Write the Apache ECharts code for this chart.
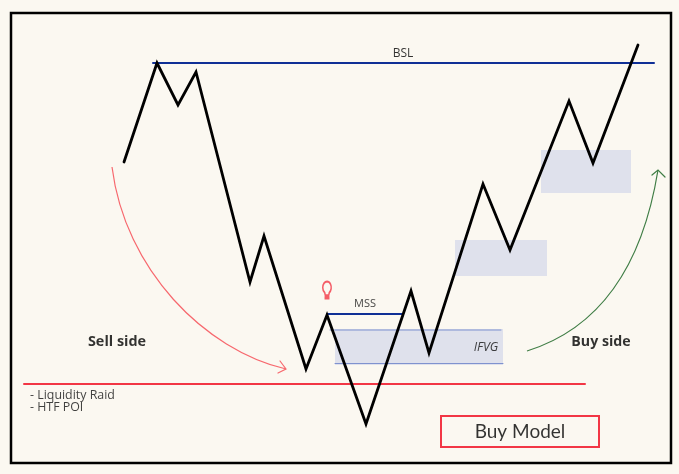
<!DOCTYPE html>
<html><head><meta charset="utf-8">
<style>html,body{margin:0;padding:0;background:#fbf8f1}#c{width:679px;height:474px}</style>
<script src="https://cdn.jsdelivr.net/npm/echarts@6/dist/echarts.min.js"></script>
</head><body><div id="c"></div>
<script>
const pricePath = [[124,162],[157,63],[178,105],[196,72],[250,282],[264,236],[306,369],[327,315],[366,424],[411,291],[429,353],[483,184],[510,250],[569,101],[593,163],[638,45]];
const bslLine = [[153,63],[654,63]];
const mssLine = [[327,314],[403,314]];
const raidLine = [[24,384],[585,384]];
const ifvgTop = [[330,330],[501,330]];
const ifvgBottom = [[335,363.5],[503,363.5]];
const zones = [[335,329,503,365],[455,240,547,276],[541,150,631,193]];
const modelBox = [441,416,599,447];
const frameBox = [11,13,671,463];
// start, control 1, control 2, end
const sellCurve = [112,167,125,270,205,350,286,369];
const sellHead = [[280,361],[286,369],[278,373]];
const buyCurve = [527,351,610,325,645,250,658,170];
const buyHead = [[652,175],[658,170],[665,177]];
const bulb = [[327,290]];
const labels = [
  {t:'BSL',x:403,y:53.5,s:12,c:'#000',a:'center',f:'Open Sans'},
  {t:'MSS',x:365,y:304,s:11,c:'#111',a:'center',f:'Open Sans'},
  {t:'IFVG',x:486,y:347,s:12.5,c:'#111',a:'center',i:'italic',f:'Open Sans'},
  {t:'Sell side',x:117,y:342,s:14.4,c:'#000',a:'center',w:'bold',f:'Open Sans'},
  {t:'Buy side',x:601,y:342,s:14.2,c:'#000',a:'center',w:'bold',f:'Open Sans'},
  {t:'- Liquidity Raid',x:30,y:395.5,s:12.4,c:'#111',a:'left',f:'Open Sans'},
  {t:'- HTF POI',x:30,y:407.5,s:12.4,c:'#111',a:'left',f:'Open Sans'},
  {t:'Buy Model',x:520,y:432,s:19,c:'#000',a:'center',f:'Lato'}
];
const line = (data,color,width,z) => ({type:'line',data,z,symbol:'none',silent:true,
  lineStyle:{color,width,cap:'round',join:'miter'}});
const rects = (data,style,z) => ({type:'custom',z,silent:true,data,
  renderItem:(p,api)=>{
    const a=api.coord([api.value(0),api.value(1)]),b=api.coord([api.value(2),api.value(3)]);
    return {type:'rect',shape:{x:a[0],y:a[1],width:b[0]-a[0],height:b[1]-a[1]},style};
  }});
const curve = (values,color,z) => ({type:'custom',z,silent:true,data:[values],
  renderItem:(p,api)=>{
    const pt=i=>api.coord([api.value(i),api.value(i+1)]);
    const s=pt(0),c1=pt(2),c2=pt(4),e=pt(6);
    return {type:'bezierCurve',shape:{x1:s[0],y1:s[1],cpx1:c1[0],cpy1:c1[1],cpx2:c2[0],cpy2:c2[1],x2:e[0],y2:e[1]},
      style:{fill:'none',stroke:color,lineWidth:1.2}};
  }});
const chart = echarts.init(document.getElementById('c'),null,{renderer:'canvas'});
chart.setOption({
  animation:false,backgroundColor:'#fbf8f1',
  grid:{left:0,right:0,top:0,bottom:0},
  xAxis:{type:'value',min:0,max:679,show:false},
  yAxis:{type:'value',min:0,max:474,inverse:true,show:false},
  series:[
    rects([frameBox],{fill:'none',stroke:'#000',lineWidth:2.5},1),
    rects(zones,{fill:'#dfe1ec'},2),
    line(ifvgTop,'#7f92cf',1,3),
    line(ifvgBottom,'#7f92cf',1,3),
    line(raidLine,'#f23645',2,4),
    curve(sellCurve,'#f7686e',4),
    line(sellHead,'#f7686e',1.2,4),
    curve(buyCurve,'#3f7d45',4),
    line(buyHead,'#3f7d45',1.2,4),
    rects([modelBox],{fill:'none',stroke:'#f23645',lineWidth:2},4),
    line(bslLine,'#0f2f96',2,5),
    line(mssLine,'#0f2f96',2,5),
    line(pricePath,'#000',2.8,6),
    {type:'scatter',z:7,silent:true,data:bulb,symbolSize:[12,17],symbolKeepAspect:true,
      symbol:'path://M12 1a7.5 7.5 0 0 0-4 13.8L9 18h6l1-3.2A7.5 7.5 0 0 0 12 1z M9 20.5h6v1.5h-6z',
      itemStyle:{color:'rgba(0,0,0,0)',borderColor:'#f23645',borderWidth:1.8}},
    {type:'scatter',z:8,silent:true,symbolSize:0,
      data:labels.map(l=>({value:[l.x,l.y],label:{show:true,position:'inside',formatter:l.t,
        align:l.a,verticalAlign:'middle',fontFamily:l.f,fontSize:l.s,color:l.c,
        fontWeight:l.w||'normal',fontStyle:l.i||'normal'}}))}
  ]
});
</script></body></html>
